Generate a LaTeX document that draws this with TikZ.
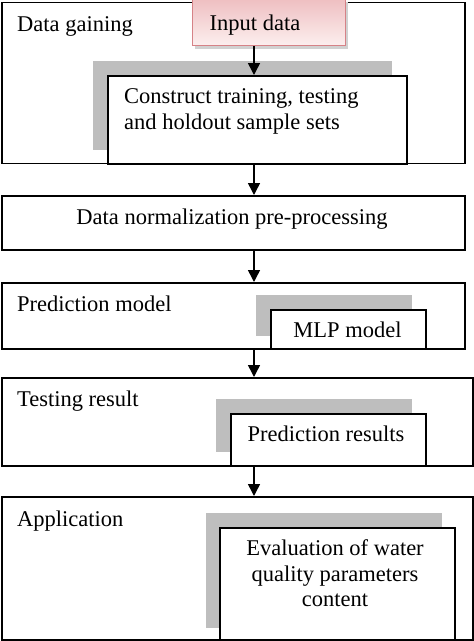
\documentclass[tikz,border=0pt]{standalone}
\usepackage{fontspec}
\setmainfont{Liberation Serif}
\usetikzlibrary{arrows.meta}
\definecolor{pinkline}{RGB}{214,130,135}
\definecolor{pinktop}{RGB}{238,190,192}
\definecolor{pinkbot}{RGB}{252,238,238}
\definecolor{shadegray}{RGB}{190,190,190}
\begin{document}
\begin{tikzpicture}[x=1pt,y=-1pt,
  box/.style={draw=black, line width=1.8pt, fill=white, anchor=north west, inner sep=0pt},
  shade/.style={fill=shadegray, draw=none},
  lbl/.style={anchor=base west, font=\fontsize{22.5}{25.5}\selectfont, inner sep=0pt},
  txt/.style={anchor=base, font=\fontsize{22.5}{25.5}\selectfont, align=center, inner sep=0pt},
  arr/.style={-{Triangle[length=12pt,width=12pt]}, line width=1.5pt}]
\useasboundingbox (0,0) rectangle (474,641);
\coordinate (ax) at (254,0);
% stage 1
\node[box, minimum width=463pt, minimum height=161pt] (s1) at (1,1.5) {};
\node[lbl] (l1) at (17,31.5) {Data gaining};
\fill[shade] (93,61) rectangle (392,150);
\node[box, minimum width=299pt, minimum height=88pt] (construct) at (107,75) {};
\node[lbl] (t1) at (124,103.5) {Construct training, testing};
\node[lbl] (t1b) at (124,129.5) {and holdout sample sets};
\fill[black!18] (195,2) rectangle (348,49);
\shade[top color=pinktop, bottom color=pinkbot] (192,-2) rectangle (345,45);
\node[draw=pinkline, line width=1.4pt, anchor=north west, inner sep=0pt, minimum width=153pt, minimum height=47pt] (input) at (192,-2) {};
\node[txt] (tin) at (255,30) {Input data};
% stage 2
\node[box, minimum width=463pt, minimum height=54pt] (s2) at (1,195) {};
\node[txt] (t2) at (232,224) {Data normalization pre-processing};
% stage 3
\node[box, minimum width=463pt, minimum height=66pt] (s3) at (1,282) {};
\node[lbl] (l3) at (17,311.7) {Prediction model};
\fill[shade] (256,295) rectangle (412,336);
\node[box, minimum width=155pt, minimum height=39pt] (mlp) at (270,309) {};
\node[txt] (t3) at (347.5,337.7) {MLP model};
% stage 4
\node[box, minimum width=471pt, minimum height=88pt] (s4) at (1,377) {};
\node[lbl] (l4) at (17,406.7) {Testing result};
\fill[shade] (216,399) rectangle (412,452);
\node[box, minimum width=195pt, minimum height=52pt] (pred) at (230,413) {};
\node[txt] (t4) at (326,441.7) {Prediction results};
% stage 5
\node[box, minimum width=471pt, minimum height=143pt] (s5) at (1,496) {};
\node[lbl] (l5) at (17,526.7) {Application};
\fill[shade] (206,513) rectangle (442,628);
\node[box, minimum width=235pt, minimum height=112pt] (eval) at (219,527) {};
\node[txt] (t5) at (335,606.7) {Evaluation of water\\quality parameters\\content};
% arrows
\draw[arr] (input.south -| ax) -- (construct.north -| ax);
\draw[arr] (s1.south -| ax) -- (s2.north -| ax);
\draw[arr] (s2.south -| ax) -- (s3.north -| ax);
\draw[arr] (s3.south -| ax) -- (s4.north -| ax);
\draw[arr] (s4.south -| ax) -- (s5.north -| ax);
\end{tikzpicture}
\end{document}
